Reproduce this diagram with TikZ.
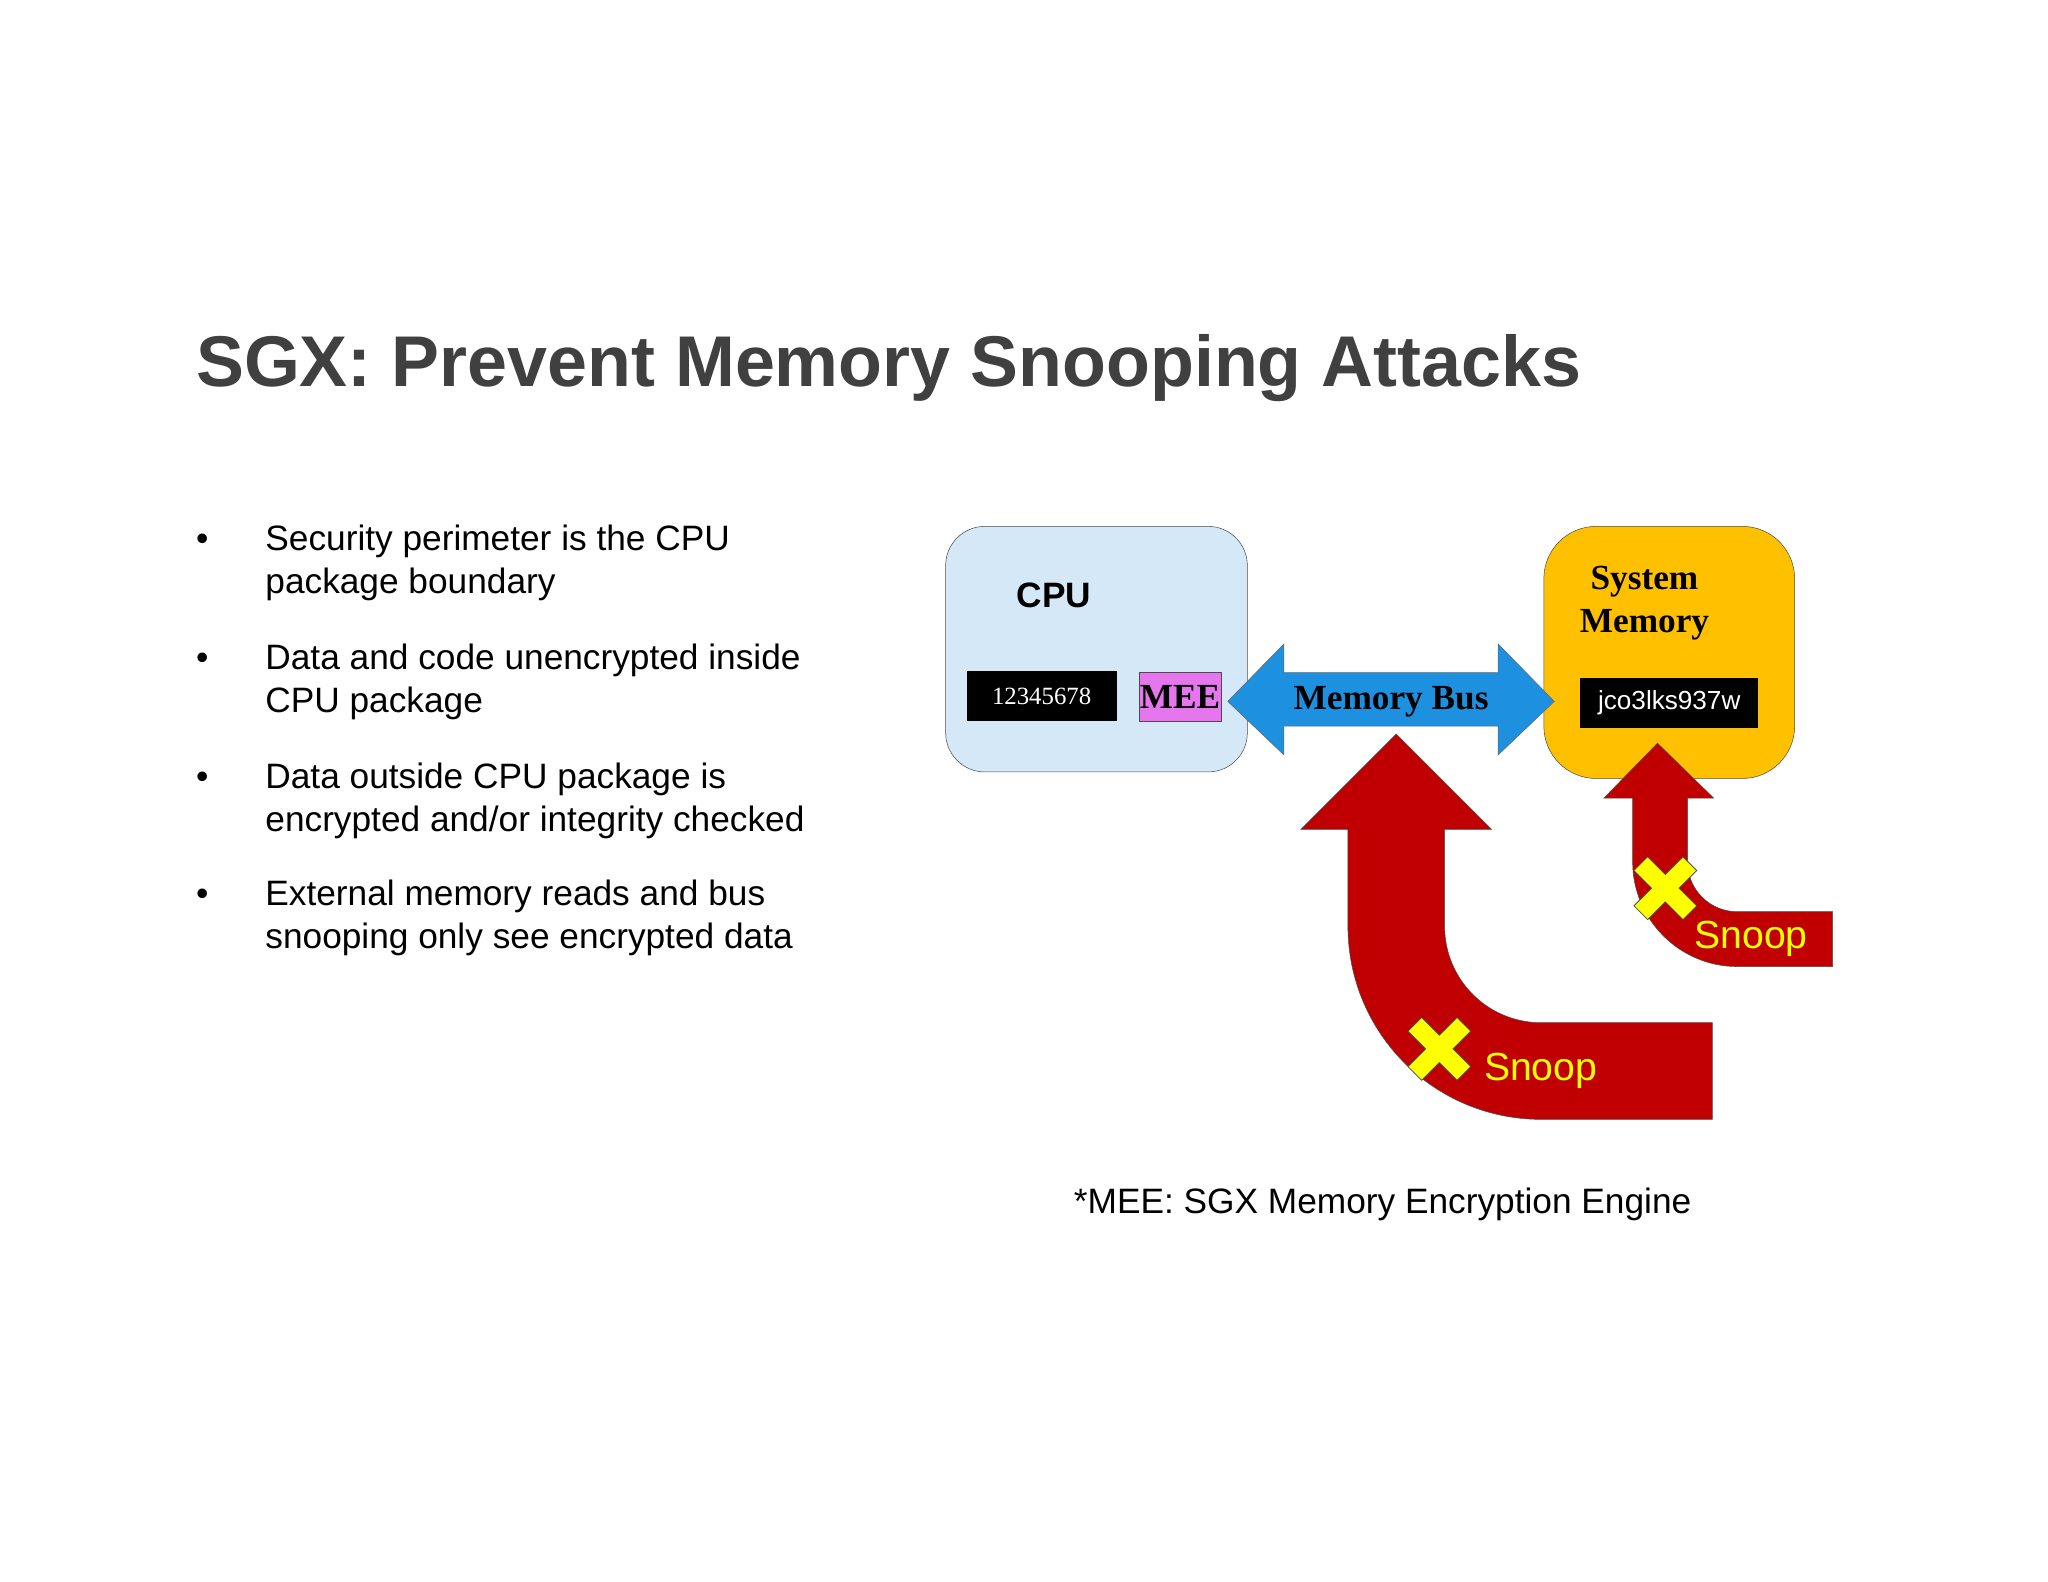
\documentclass[tikz,border=0pt]{standalone}
\usepackage{fontspec}
\setmainfont{Liberation Serif}
\newfontfamily\arial{Liberation Sans}
\definecolor{ttl}{HTML}{404040}
\definecolor{cpubg}{HTML}{D4E8F8}
\definecolor{mee}{HTML}{E676EE}
\definecolor{bus}{HTML}{1E90E0}
\definecolor{memc}{HTML}{FFC000}
\definecolor{snoop}{HTML}{C00000}
\definecolor{yel}{HTML}{FFFF00}
\begin{document}
\begin{tikzpicture}[x=1pt,y=-1pt,
  bul/.style={anchor=west,align=left,font=\arial\fontsize{27}{33}\selectfont,text=black,inner sep=0},
  blk/.style={fill=black,text=white,minimum height=38,inner sep=0},
  xm/.style={line width=14, draw=yel},
  xo/.style={line width=15.5, draw=black!70}]
\useasboundingbox (0,0) rectangle (1568,1211);
\node[anchor=base west,inner sep=0,text=ttl,font=\arial\bfseries\fontsize{55}{60}\selectfont] (title) at (150,296) {SGX: Prevent Memory Snooping Attacks};
\foreach \y/\t [count=\i] in {431/{Security perimeter is the CPU\\package boundary},522/{Data and code unencrypted inside\\CPU package},613/{Data outside CPU package is\\encrypted and/or integrity checked},703/{External memory reads and bus\\snooping only see encrypted data}}{
  \node[bul] (b\i) at (203,\y) {\t};
  \node[bul] (d\i) at (150,\y-16) {\textbullet};
}
% CPU
\draw[fill=cpubg,draw=black!70,rounded corners=30] (724,403) rectangle (955,591);
\node[font=\arial\bfseries\fontsize{27}{30}\selectfont] (cpu) at (807,456) {CPU};
\node[blk,minimum width=115,font=\fontsize{19}{22}\selectfont] (n1) at (797.5,533) {12345678};
\node[fill=mee,draw=black!70,minimum width=63,minimum height=37,inner sep=0,font=\bfseries\fontsize{27}{30}\selectfont] (mee) at (903.5,533.5) {MEE};
% Memory
\draw[fill=memc,draw=black!70,rounded corners=40] (1182,403) rectangle (1374,596);
\node[align=center,font=\bfseries\fontsize{27}{33}\selectfont] (sm) at (1259,462) {System\\Memory};
\node[blk,minimum width=136,font=\arial\fontsize{20}{22}\selectfont] (n2) at (1278,538) {jco3lks937w};
% bus
\draw[fill=bus,draw=black!60] (940,537)--(983,493)--(983,515)--(1147,515)--(1147,493)--(1190,537)--(1147,578)--(1147,556)--(983,556)--(983,578)--cycle;
\node[font=\bfseries\fontsize{27}{30}\selectfont] (busl) at (1065,537) {Memory Bus};
% snoop arrows
\draw[fill=snoop,draw=black!70] (1069,562)--(1142,635)--(1106,635)--(1106,709) .. controls (1106,750) and (1139,783) .. (1180,783) --(1311,783)--(1311,857)--(1180,857) .. controls (1098,857) and (1032,791) .. (1032,709) -- (1032,635)--(996,635)--cycle;
\draw[fill=snoop,draw=black!70] (1269,569)--(1312,611)--(1292,611)--(1292,660) .. controls (1292,681) and (1309,698) .. (1330,698) -- (1403,698)--(1403,740)--(1330,740) .. controls (1286,740) and (1250,704) .. (1250,660)--(1250,611)--(1228,611)--cycle;
\foreach \cx/\cy in {1102/803,1275/680}{
  \draw[xo] (\cx-19,\cy-19)--(\cx+19,\cy+19) (\cx-19,\cy+19)--(\cx+19,\cy-19);
  \draw[xm] (\cx-18.5,\cy-18.5)--(\cx+18.5,\cy+18.5) (\cx-18.5,\cy+18.5)--(\cx+18.5,\cy-18.5);
}
\node[anchor=west,inner sep=0,text=yel,font=\arial\fontsize{30}{33}\selectfont] (s1) at (1136,820) {Snoop};
\node[anchor=west,inner sep=0,text=yel,font=\arial\fontsize{30}{33}\selectfont] (s2) at (1297,719) {Snoop};
\node[anchor=west,inner sep=0,font=\arial\fontsize{27}{30}\selectfont] (foot) at (822,922) {*MEE: SGX Memory Encryption Engine};
\end{tikzpicture}
\end{document}
